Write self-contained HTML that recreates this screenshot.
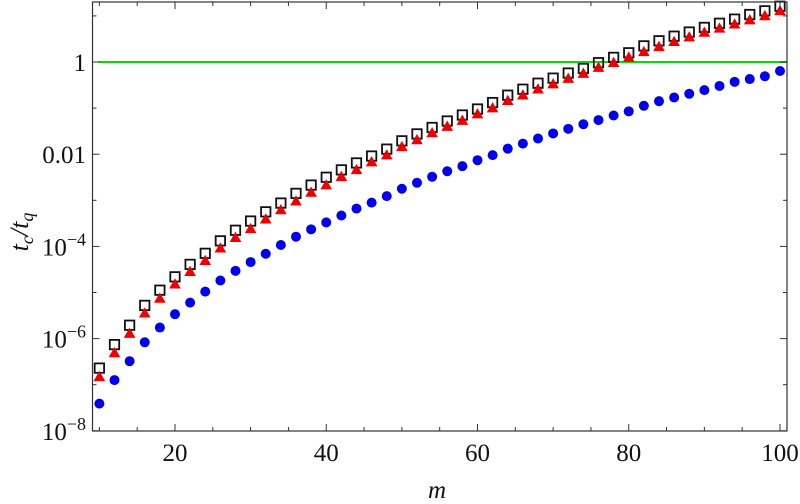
<!DOCTYPE html>
<html><head><meta charset="utf-8"><style>
html,body{margin:0;padding:0;background:#fff;}
svg{display:block;}
text{font-family:"Liberation Serif","Times New Roman",serif;}
</style></head><body>
<svg id="chart" width="800" height="504" viewBox="0 0 800 504">
<g id="grid"></g><g id="marks"></g><g id="axes"></g>
</svg>
<script>
const mValues = [10,12,14,16,18,20,22,24,26,28,30,32,34,36,38,40,42,44,46,48,50,52,54,56,58,60,62,64,66,68,70,72,74,76,78,80,82,84,86,88,90,92,94,96,98,100];
const squareLog = [-6.64,-6.13,-5.71,-5.28,-4.95,-4.66,-4.39,-4.15,-3.88,-3.65,-3.45,-3.25,-3.06,-2.85,-2.67,-2.50,-2.34,-2.19,-2.04,-1.89,-1.71,-1.56,-1.42,-1.28,-1.15,-1.02,-0.88,-0.72,-0.59,-0.46,-0.35,-0.24,-0.14,-0.015,0.10,0.20,0.35,0.46,0.56,0.65,0.75,0.84,0.93,1.03,1.11,1.21];
const triangleLog = [-6.83,-6.31,-5.89,-5.45,-5.13,-4.82,-4.55,-4.31,-4.04,-3.81,-3.62,-3.41,-3.21,-3.02,-2.83,-2.67,-2.49,-2.34,-2.17,-2.02,-1.84,-1.69,-1.54,-1.40,-1.27,-1.13,-1.00,-0.84,-0.72,-0.59,-0.48,-0.36,-0.25,-0.12,-0.015,0.10,0.22,0.33,0.44,0.54,0.64,0.73,0.82,0.91,1.00,1.11];
const circleLog = [-7.41,-6.90,-6.49,-6.08,-5.76,-5.47,-5.22,-4.98,-4.74,-4.53,-4.34,-4.16,-3.97,-3.79,-3.63,-3.48,-3.33,-3.18,-3.05,-2.91,-2.75,-2.62,-2.49,-2.37,-2.26,-2.13,-2.02,-1.88,-1.77,-1.66,-1.55,-1.45,-1.35,-1.26,-1.16,-1.07,-0.95,-0.85,-0.77,-0.69,-0.61,-0.52,-0.43,-0.37,-0.31,-0.195];
const xTickLabels = [20,40,60,80,100];
const yTickExps = [0,-2,-4,-6,-8];
const refLineValue = 0;

const L=92.5,R=787,T=2,B=431;
const xs = m => 175 + (m-20)*7.5625;
const ys = lg => 62 - lg*46.1;
const NS="http://www.w3.org/2000/svg";
function mk(tag,attrs,parent){const e=document.createElementNS(NS,tag);for(const k in attrs)e.setAttribute(k,attrs[k]);parent.appendChild(e);return e;}
const marks=document.getElementById('marks'), axes=document.getElementById('axes');

let ln=mk('line',{x1:L+6,x2:R,y1:ys(refLineValue),y2:ys(refLineValue),stroke:'#00e000','stroke-width':2},marks);



mValues.forEach((m,i)=>{
  const x=xs(m);
  let c=mk('circle',{cx:x,cy:ys(circleLog[i]),r:5,fill:'#0000ee'},marks);
  
  
  const ys2=ys(squareLog[i]);
  let s=mk('rect',{x:x-4.7,y:ys2-4.7,width:9.4,height:9.4,fill:'none',stroke:'#111','stroke-width':1.8},marks);
  
  
  const yt=ys(triangleLog[i]);
  let t=mk('polygon',{points:`${x-5.8},${yt+4.3} ${x+5.8},${yt+4.3} ${x},${yt-6}`,fill:'#ee0000'},marks);
  
  
});

let fr=mk('rect',{x:L,y:T,width:R-L,height:B-T,fill:'none',stroke:'#333','stroke-width':1.2},axes);


for(let m=10;m<=100;m+=5){
  const x=xs(m), len=(m%20===0)?7:4;
  mk('line',{x1:x,x2:x,y1:B,y2:B-len,stroke:'#333','stroke-width':1},axes);
  mk('line',{x1:x,x2:x,y1:T,y2:T+len,stroke:'#333','stroke-width':1},axes);
}
xTickLabels.forEach(v=>{
  let t=mk('text',{x:xs(v),y:461,'text-anchor':'middle','font-size':25,fill:'#111'},axes);
  t.textContent=v;
  
  
});
for(let e=-8;e<=1;e++){
  const y=ys(e), len=(e%2===0)?7:4;
  mk('line',{x1:L,x2:L+len,y1:y,y2:y,stroke:'#333','stroke-width':1},axes);
  mk('line',{x1:R,x2:R-len,y1:y,y2:y,stroke:'#333','stroke-width':1},axes);
}
yTickExps.forEach(e=>{
  let t=mk('text',{x:86,y:ys(e)+9,'text-anchor':'end','font-size':25,fill:'#111'},axes);
  
  
  if(e===0) t.textContent='1';
  else if(e===-2) t.textContent='0.01';
  else {
    const a=document.createElementNS(NS,'tspan');a.textContent='10';t.appendChild(a);
    const b=document.createElementNS(NS,'tspan');b.setAttribute('dy','-10');b.setAttribute('font-size','18');b.textContent='\u2212'+(-e);t.appendChild(b);
  }
});
</script>
<svg style="position:absolute;left:0;top:0" width="800" height="504">
<text x="437" y="498" text-anchor="middle" font-style="italic" font-size="25" fill="#111">m</text>
<text transform="translate(28,232) rotate(-90)" text-anchor="middle" font-style="italic" font-size="26" fill="#111">t<tspan font-size="18" dy="5">c</tspan><tspan dy="-5">/t</tspan><tspan font-size="18" dy="5">q</tspan></text>
</svg>
</body></html>
